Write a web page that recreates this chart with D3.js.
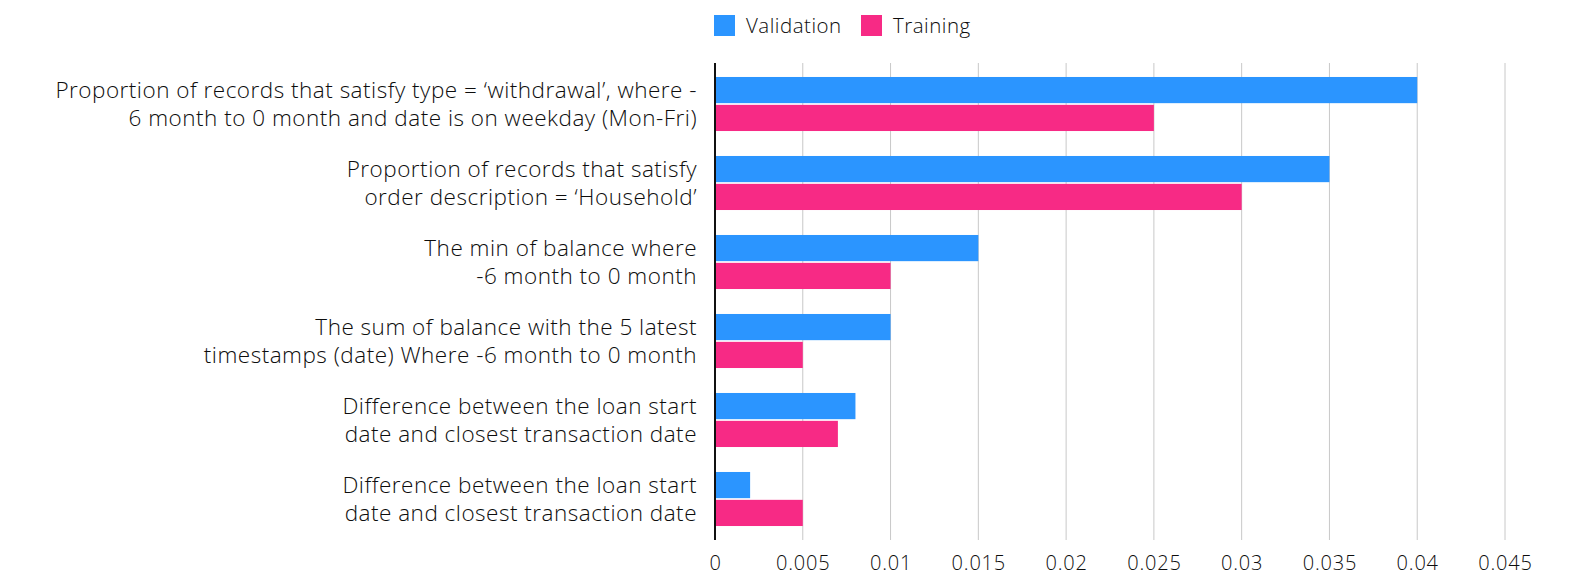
<!DOCTYPE html>
<html>
<head>
<meta charset="utf-8">
<script src="https://cdn.jsdelivr.net/npm/d3@7"></script>
<style>
  body { margin: 0; background: #fff; }
  text { font-family: "Open Sans", Lato, sans-serif; font-weight: 300; fill: #0d0d0d; }
</style>
</head>
<body>
<script>
var categories = [
  ["Proportion of records that satisfy type = \u2018withdrawal\u2019, where -", "6 month to 0 month and date is on weekday (Mon-Fri)"],
  ["Proportion of records that satisfy", "order description = \u2018Household\u2019"],
  ["The min of balance where", "-6 month to 0 month"],
  ["The sum of balance with the 5 latest", "timestamps (date) Where -6 month to 0 month"],
  ["Difference between the loan start", "date and closest transaction date"],
  ["Difference between the loan start", "date and closest transaction date"]
];
var seriesNames = ["Validation", "Training"];
var validation = [0.04, 0.035, 0.015, 0.01, 0.008, 0.002];
var training = [0.025, 0.03, 0.01, 0.005, 0.007, 0.005];
var tickValues = [0, 0.005, 0.01, 0.015, 0.02, 0.025, 0.03, 0.035, 0.04, 0.045];
var colors = ["#2b95ff", "#f72a85"];

var width = 1573, height = 588;
var svg = d3.select("body").append("svg").attr("width", width).attr("height", height);

var x = d3.scaleLinear().domain([0, 0.045]).range([715, 1505]);
var y = d3.scaleBand().domain(d3.range(categories.length)).range([63, 540])
  .paddingInner(0.316).paddingOuter(0.177);
var y1 = d3.scaleBand().domain(seriesNames).range([0, y.bandwidth()]).paddingInner(0.06);

// grid lines
svg.append("g").selectAll("line")
  .data(tickValues.slice(1))
  .enter().append("line")
  .attr("x1", function (d) { return x(d); })
  .attr("x2", function (d) { return x(d); })
  .attr("y1", 63).attr("y2", 540)
  .attr("stroke", "#c8c8c8").attr("stroke-width", 1);

// bars
var rows = categories.map(function (c, i) {
  return [{ s: "Validation", v: validation[i] }, { s: "Training", v: training[i] }];
});
var groups = svg.append("g").selectAll("g")
  .data(rows).enter().append("g")
  .attr("transform", function (d, i) { return "translate(0," + y(i) + ")"; });
groups.selectAll("rect")
  .data(function (d) { return d; })
  .enter().append("rect")
  .attr("x", x(0))
  .attr("y", function (d) { return y1(d.s); })
  .attr("width", function (d) { return x(d.v) - x(0); })
  .attr("height", y1.bandwidth())
  .attr("fill", function (d) { return colors[seriesNames.indexOf(d.s)]; });

// x axis labels
var xAxis = d3.axisBottom(x).tickValues(tickValues)
  .tickFormat(function (d) { return d === 0 ? "0" : String(+d.toFixed(3)); })
  .tickSize(0).tickPadding(0);
var ax = svg.append("g").attr("transform", "translate(0,556)").call(xAxis);
ax.select(".domain").remove();
ax.selectAll("text").attr("font-size", 20).attr("font-family", "'Open Sans', sans-serif")
  .attr("font-weight", 300).attr("fill", "#0d0d0d").attr("letter-spacing", 0.8);

// y axis line
svg.append("line").attr("x1", x(0)).attr("x2", x(0)).attr("y1", 63).attr("y2", 540)
  .attr("stroke", "#111").attr("stroke-width", 2);

// category labels
var labels = svg.append("g").selectAll("text")
  .data(categories).enter().append("text")
  .attr("text-anchor", "end")
  .attr("font-size", 22.5)
  .attr("letter-spacing", 0.5)
  .attr("transform", function (d, i) { return "translate(697," + (y(i) + y.bandwidth() / 2) + ")"; });
labels.selectAll("tspan")
  .data(function (d) { return d; })
  .enter().append("tspan")
  .attr("x", 0)
  .attr("y", function (d, j) { return j === 0 ? -6 : 22; })
  .text(function (d) { return d; });

// legend
var legend = svg.append("g").selectAll("g")
  .data(seriesNames).enter().append("g")
  .attr("transform", function (d, i) { return "translate(" + [714, 861][i] + ",15)"; });
legend.append("rect").attr("width", 21).attr("height", 21)
  .attr("fill", function (d, i) { return colors[i]; });
legend.append("text").attr("x", 32).attr("y", 17.5).attr("font-size", 20.5)
  .attr("letter-spacing", 0.5)
  .text(function (d) { return d; });
</script>
</body>
</html>
